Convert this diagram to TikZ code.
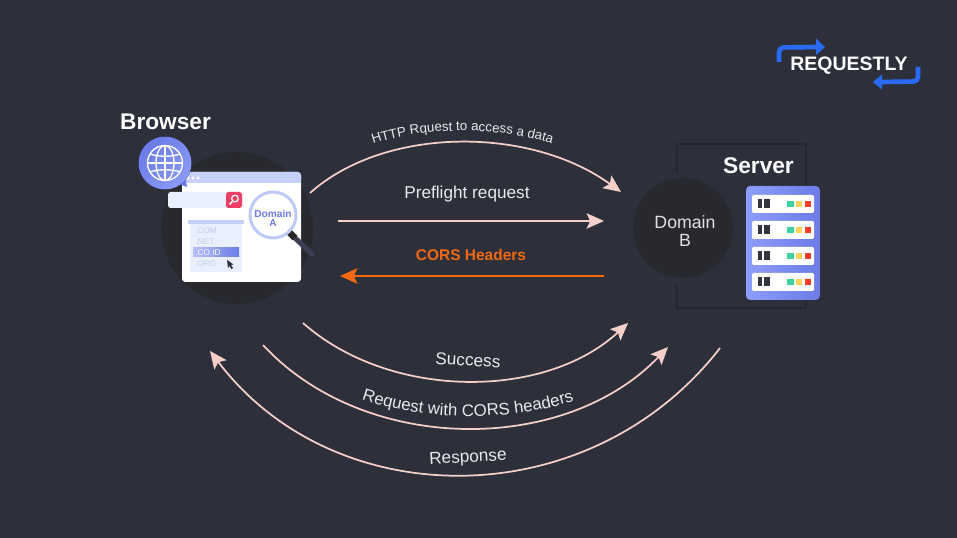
\documentclass[tikz,border=0pt]{standalone}
\usepackage{fontspec}
\setmainfont{Liberation Sans}
\usetikzlibrary{arrows.meta,decorations.text,shapes.geometric}
\definecolor{bg}{HTML}{2D303B}
\definecolor{disc}{HTML}{28292F}
\definecolor{pinkl}{HTML}{F6CFC8}
\definecolor{orangel}{HTML}{F2690F}
\definecolor{paneblue}{HTML}{E9EFFC}
\definecolor{barblue}{HTML}{C5D0FB}
\definecolor{vio}{HTML}{6C7BE6}
\definecolor{viol}{HTML}{8E9DFB}
\definecolor{logob}{HTML}{2A6BF5}
\definecolor{itemc}{HTML}{C2CDEE}
\definecolor{soft}{HTML}{E9E9EC}
\definecolor{frame}{HTML}{25272E}
\tikzset{
  tip/.style={-{Stealth[length=13pt,width=11.5pt,inset=2.6pt]}},
  flow/.style={draw=pinkl,line width=1.3pt,tip},
  straight/.style={draw=pinkl,line width=1.6pt,tip},
  back/.style={draw=orangel,line width=1.6pt,tip},
  lbl/.style={text=soft,inner sep=0pt,font=\fontsize{12.9}{14}\selectfont},
  title/.style={text=white,inner sep=0pt,font=\fontsize{17}{20}\selectfont\bfseries},
  item/.style={text=itemc,inner sep=0pt,anchor=west,font=\fontsize{6.2}{7}\selectfont},
  slot/.style={fill=white,rounded corners=1pt},
  logoarrow/.style={draw=logob,line width=3.5pt,rounded corners=3.5pt},
}
\begin{document}
\begin{tikzpicture}[x=.75pt,y=-.75pt]
\useasboundingbox (0,0) rectangle (957,538);
\fill[bg] (0,0) rectangle (957,538);

% named ends
\coordinate (h1) at (310,193); \coordinate (h2) at (621,192);
\coordinate (p1) at (338,221); \coordinate (p2) at (604,221);
\coordinate (c1) at (604,276); \coordinate (c2) at (340,276);
\coordinate (s1) at (303,323); \coordinate (s2) at (628,323);
\coordinate (r1) at (263,345); \coordinate (r2) at (668,347);
\coordinate (e1) at (720,348); \coordinate (e2) at (210,351);

% browser
\fill[disc] (237,228) circle (76*.75pt);
\fill[white,rounded corners=2.5pt] (182,172) rectangle (301,282);
\fill[barblue,rounded corners=2.5pt] (182,172) rectangle (301,183);
\fill[barblue] (182,178) rectangle (301,183);
\foreach \x in {188,193,198} \fill[white] (\x,178) circle (1.2pt);
\fill[paneblue,rounded corners=2pt] (168,192) rectangle (242,208);
\fill[rounded corners=2pt,fill={rgb,255:red,238;green,62;blue,100}] (226,192) rectangle (242,208);
\draw[white,line width=.9pt] (235,198.5) circle (2.5pt);
\draw[white,line width=1.2pt] (232.3,201.5) -- (229.5,204.5);
\fill[paneblue] (190,222) rectangle (242,272);
\fill[barblue] (188,220) rectangle (244,224);
\fill[left color=viol!65!white,right color=vio] (193,248) rectangle (239,257);
\node[item] (com) at (195,231) {.COM};
\node[item] (net) at (195,242) {.NET};
\node[item,text=white] (coid) at (195,252.5) {.CO.ID};
\node[item] (org) at (195,264) {.ORG};
\fill[bg] (227,260) -- (233.5,264.5) -- (231,265) -- (233,268) -- (231.5,269) -- (229.5,266) -- (228,268) -- cycle;
% magnifier
\draw[line width=3.8pt,color={rgb,255:red,58;green,63;blue,85},line cap=round] (294,237) -- (312,254);
\draw[line width=5pt,black!85] (289,232) -- (295,238);
\draw[fill=white,draw=barblue!92!vio,line width=2.2pt] (273,215) circle (23*.75pt);
\node[inner sep=0pt,align=center,text=vio,font=\fontsize{7.6}{7}\selectfont\bfseries] (doma) at (273,218.5) {Domain\\A};
% globe
\fill[vio] (176,183) -- (187,187) -- (185,175) -- cycle;
\fill[left color=vio,right color=viol!90!vio,shading angle=45] (165,163) circle (26.5*.75pt);
\begin{scope}[white,line width=1pt]
\draw (165,163) circle (17.5*.75pt);
\draw (165,163) ellipse (9*.75pt and 17.5*.75pt);
\draw (165,145.5) -- (165,180.5);
\draw (147.5,163) -- (182.5,163);
\draw (150,154) .. controls (158,157) and (172,157) .. (180,154);
\draw (150,172) .. controls (158,169) and (172,169) .. (180,172);
\end{scope}
\node[title] (browser) at (165.5,122) {Browser};

% server
\draw[frame,line width=2pt] (677,172) -- (677,144) -- (806,144) -- (806,190);
\draw[frame,line width=2pt] (677,285) -- (677,308) -- (806,308) -- (806,296);
\fill[disc] (683,228) circle (50*.75pt);
\node[inner sep=0pt,align=center,text=white!88!black,font=\fontsize{13.3}{13}\selectfont] (domb) at (685,231) {Domain\\B};
\node[title] (server) at (758.5,166) {Server};
\fill[left color=viol,right color=vio,rounded corners=3pt] (746,186) rectangle (820,300);
\foreach \y in {195,221,247,273}{
  \fill[slot] (752,\y) rectangle (814,\y+18);
  \fill[color={rgb,255:red,50;green,52;blue,64}] (758,\y+4) rectangle (762,\y+13);
  \fill[color={rgb,255:red,50;green,52;blue,64}] (764,\y+4) rectangle (770,\y+13);
  \fill[color={rgb,255:red,63;green,211;blue,162}] (787,\y+6) rectangle (794,\y+12);
  \fill[color={rgb,255:red,251;green,214;blue,90}] (796,\y+6) rectangle (802,\y+12);
  \fill[color={rgb,255:red,255;green,59;blue,42}] (805,\y+6) rectangle (811,\y+12);
}

% connectors
\draw[flow] (h1) .. controls (385,126) and (530,126) .. (h2);
\draw[straight] (p1) -- (p2);
\draw[back] (c1) -- (c2);
\draw[flow] (s1) .. controls (390,400) and (545,400) .. (s2);
\draw[flow] (r1) .. controls (365,455) and (565,455) .. (r2);
\draw[flow] (e1) .. controls (590,516) and (335,516) .. (e2);

% labels
\path[decorate,decoration={text along path,text align=center,
  text={|\fontsize{10}{12}\selectfont\color{soft}|HTTP Rquest to access a data}}]
  (362,148) .. controls (420,125) and (505,125) .. (563,148);
\node[lbl] (pre) at (467,194) {Preflight request};
\node[lbl,text=orangel,font=\fontsize{11.6}{14}\selectfont\bfseries] (cors) at (471,255) {CORS Headers};
\node[lbl,rotate=-3] (succ) at (468,360) {Success};
\path[decorate,decoration={text along path,text align=center,
  text={|\fontsize{12.6}{14}\selectfont\color{soft}|Request with CORS headers}}]
  (350,395) .. controls (420,423) and (515,423) .. (586,397);
\node[lbl,rotate=3] (resp) at (468,458) {Response};

% logo
\draw[logoarrow] (779,62) -- (779,47.5) -- (818,47);
\fill[logob] (825,47) -- (816,38.5) -- (816,55) -- cycle;
\draw[logoarrow] (918,67) -- (918,81.5) -- (880,82);
\fill[logob] (873,82) -- (882,74.5) -- (882,89.5) -- cycle;
\node[text=white,inner sep=0pt,font=\fontsize{14.6}{16}\selectfont\bfseries] (logo) at (849,66) {REQUESTLY};
\end{tikzpicture}
\end{document}
